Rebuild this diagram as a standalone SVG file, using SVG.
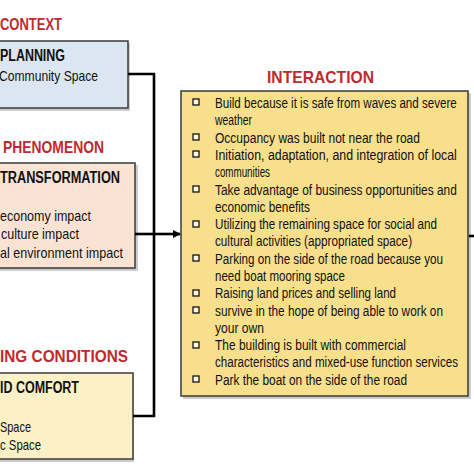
<svg xmlns="http://www.w3.org/2000/svg" width="474" height="474" viewBox="0 0 474 474">
<defs>
<style>
.title{font-family:"Liberation Sans",Arial,sans-serif;font-weight:bold;font-size:17px;fill:#bf2a30}
.head{font-family:"Liberation Sans",Arial,sans-serif;font-weight:bold;font-size:16px;fill:#111}
.txt{font-family:"Liberation Sans",Arial,sans-serif;font-size:15px;fill:#111}
.box{stroke:#3a3a3a;stroke-width:1.5}
.shadow{fill:#000;opacity:0.2}
.conn{fill:none;stroke:#000;stroke-width:2.6}
.bul{fill:#fff8e0;stroke:#222;stroke-width:1.4}
</style>
<marker id="arr" markerWidth="8" markerHeight="8" refX="7" refY="4" orient="auto" markerUnits="userSpaceOnUse" viewBox="0 0 8 8">
<path d="M0,0 L8,4 L0,8 Z" fill="#000"/>
</marker>
</defs>
<rect width="474" height="474" fill="#fff"/>

<g id="context">
<text class="title" x="0" y="30" textLength="62" lengthAdjust="spacingAndGlyphs">CONTEXT</text>
</g>
<g id="planning">
<rect class="shadow" x="-8" y="43" width="138" height="68"/>
<rect class="box" x="-10" y="41" width="138" height="67" fill="#dce6f2"/>
<text class="head" x="0" y="61" textLength="65" lengthAdjust="spacingAndGlyphs">PLANNING</text>
<text class="txt" x="-1" y="81" textLength="99" lengthAdjust="spacingAndGlyphs">Community Space</text>
</g>

<g id="phenomenon">
<text class="title" x="3" y="153" textLength="101" lengthAdjust="spacingAndGlyphs">PHENOMENON</text>
</g>
<g id="transformation">
<rect class="shadow" x="-7" y="165" width="145" height="106"/>
<rect class="box" x="-10" y="163" width="145" height="105" fill="#fbe3d4"/>
<text class="head" x="0" y="183" textLength="120" lengthAdjust="spacingAndGlyphs">TRANSFORMATION</text>
<text class="txt" x="0" y="221" textLength="91" lengthAdjust="spacingAndGlyphs">economy impact</text>
<text class="txt" x="1" y="239" textLength="78" lengthAdjust="spacingAndGlyphs">culture impact</text>
<text class="txt" x="0" y="258" textLength="123" lengthAdjust="spacingAndGlyphs">al environment impact</text>
</g>

<g id="conditions">
<text class="title" x="0" y="362" textLength="128" lengthAdjust="spacingAndGlyphs">ING CONDITIONS</text>
</g>
<g id="comfort">
<rect class="shadow" x="-8" y="375" width="142" height="87"/>
<rect class="box" x="-10" y="373" width="143" height="86" fill="#fcf1c6"/>
<text class="head" x="0" y="393" textLength="79" lengthAdjust="spacingAndGlyphs">ID COMFORT</text>
<text class="txt" x="0" y="432" textLength="31" lengthAdjust="spacingAndGlyphs">Space</text>
<text class="txt" x="0" y="450" textLength="41" lengthAdjust="spacingAndGlyphs">c Space</text>
</g>

<g id="connectors">
<polyline class="conn" points="128,74 154,74 154,416 133,416"/>
<line class="conn" x1="135" y1="234" x2="154" y2="234"/>
<line class="conn" x1="154" y1="234" x2="180" y2="234" marker-end="url(#arr)"/>
<line class="conn" x1="469" y1="236" x2="474" y2="236"/>
</g>

<g id="interaction">
<text class="title" x="267" y="83" textLength="107" lengthAdjust="spacingAndGlyphs">INTERACTION</text>
<rect class="shadow" x="183" y="93" width="288" height="306"/>
<rect class="box" x="181" y="91" width="287" height="305" fill="#f8df8c"/>
<g id="bullets">
<rect class="bul" x="193" y="99" width="6" height="6"/>
<rect class="bul" x="193" y="134" width="6" height="6"/>
<rect class="bul" x="193" y="151" width="6" height="6"/>
<rect class="bul" x="193" y="186" width="6" height="6"/>
<rect class="bul" x="193" y="221" width="6" height="6"/>
<rect class="bul" x="193" y="255" width="6" height="6"/>
<rect class="bul" x="193" y="290" width="6" height="6"/>
<rect class="bul" x="193" y="307" width="6" height="6"/>
<rect class="bul" x="193" y="342" width="6" height="6"/>
<rect class="bul" x="193" y="376" width="6" height="6"/>
</g>
<g transform="translate(215,0) scale(0.78,1)">
<text class="txt" x="0" y="108" textLength="310" lengthAdjust="spacingAndGlyphs">Build because it is safe from waves and severe</text>
<text class="txt" x="0" y="125" textLength="47.4" lengthAdjust="spacingAndGlyphs">weather</text>
<text class="txt" x="0" y="143" textLength="262.8" lengthAdjust="spacingAndGlyphs">Occupancy was built not near the road</text>
<text class="txt" x="0" y="160" textLength="310" lengthAdjust="spacingAndGlyphs">Initiation, adaptation, and integration of local</text>
<text class="txt" x="0" y="177" textLength="70.5" lengthAdjust="spacingAndGlyphs">communities</text>
<text class="txt" x="0" y="195" textLength="310" lengthAdjust="spacingAndGlyphs">Take advantage of business opportunities and</text>
<text class="txt" x="0" y="212" textLength="121.8" lengthAdjust="spacingAndGlyphs">economic benefits</text>
<text class="txt" x="0" y="229" textLength="284.6" lengthAdjust="spacingAndGlyphs">Utilizing the remaining space for social and</text>
<text class="txt" x="0" y="246" textLength="252.6" lengthAdjust="spacingAndGlyphs">cultural activities (appropriated space)</text>
<text class="txt" x="0" y="264" textLength="292.3" lengthAdjust="spacingAndGlyphs">Parking on the side of the road because you</text>
<text class="txt" x="0" y="281" textLength="166.7" lengthAdjust="spacingAndGlyphs">need boat mooring space</text>
<text class="txt" x="0" y="298" textLength="232.1" lengthAdjust="spacingAndGlyphs">Raising land prices and selling land</text>
<text class="txt" x="0" y="316" textLength="292.3" lengthAdjust="spacingAndGlyphs">survive in the hope of being able to work on</text>
<text class="txt" x="0" y="333" textLength="62.8" lengthAdjust="spacingAndGlyphs">your own</text>
<text class="txt" x="0" y="350" textLength="244.9" lengthAdjust="spacingAndGlyphs">The building is built with commercial</text>
<text class="txt" x="0" y="367" textLength="311.5" lengthAdjust="spacingAndGlyphs">characteristics and mixed-use function services</text>
<text class="txt" x="0" y="385" textLength="246.2" lengthAdjust="spacingAndGlyphs">Park the boat on the side of the road</text>
</g>
</g>
</svg>
